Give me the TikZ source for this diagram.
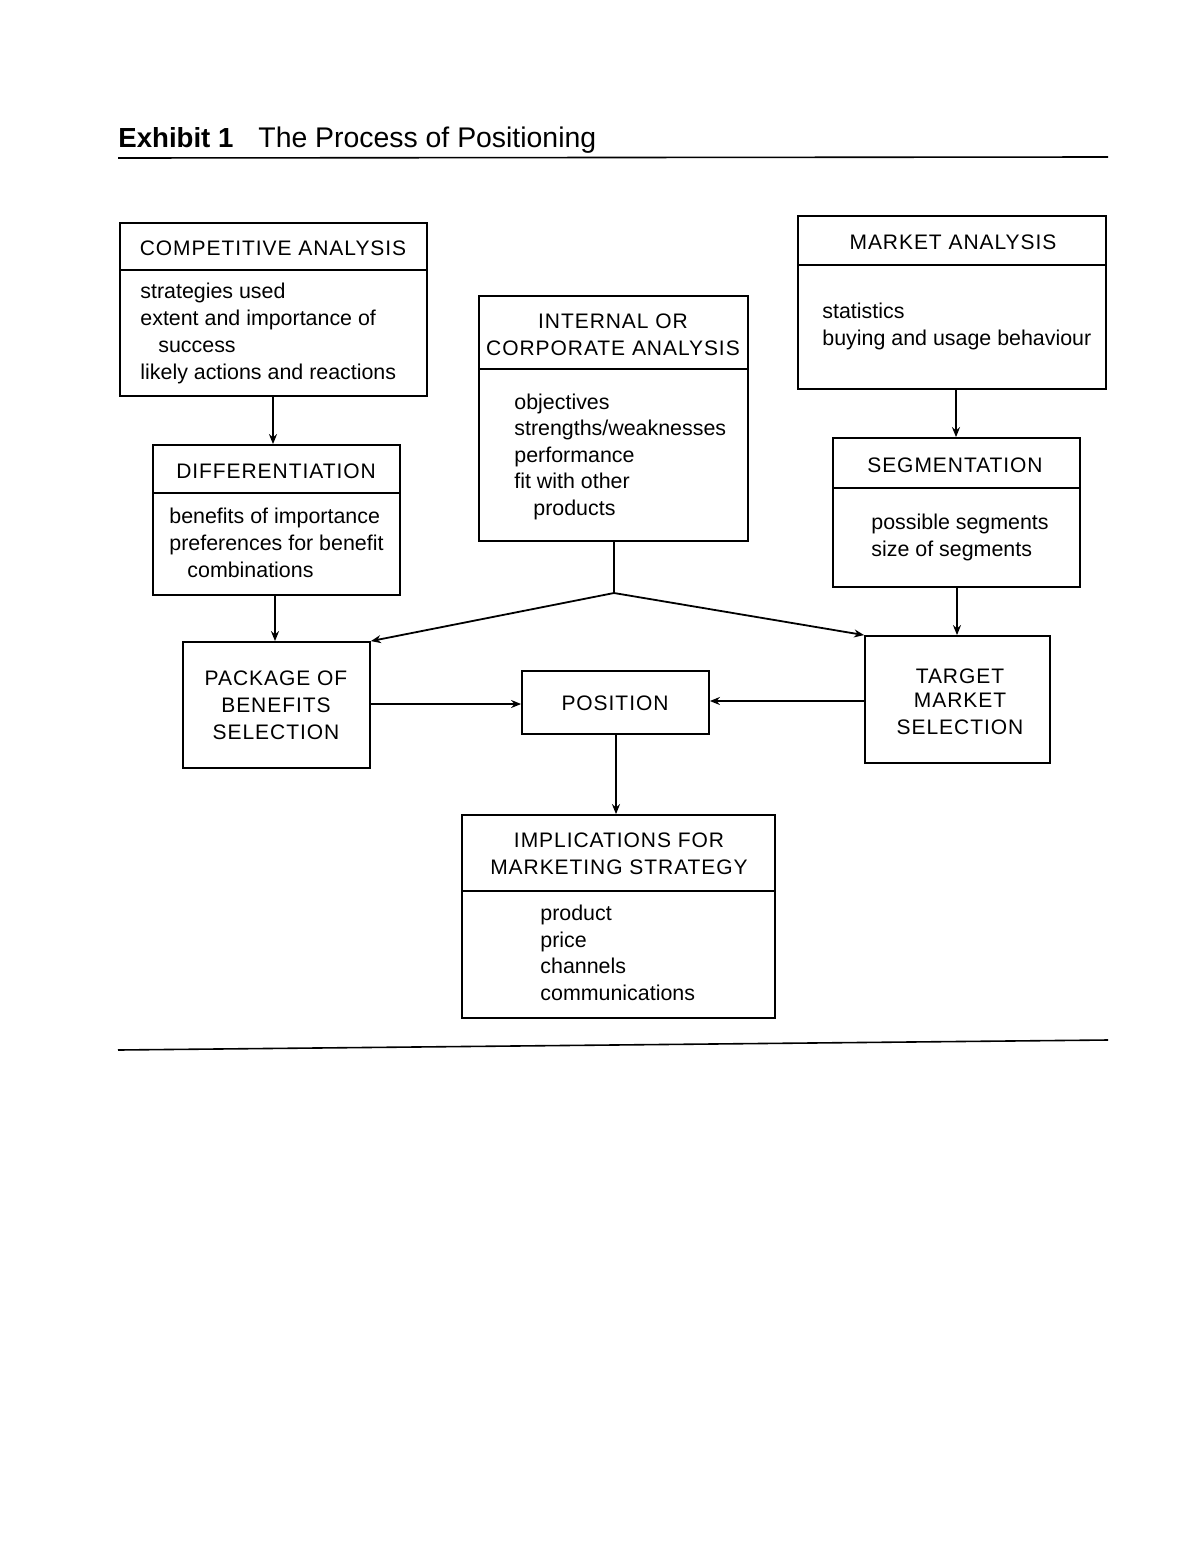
\documentclass[tikz,border=0pt]{standalone}
\usepackage{fontspec}
\setmainfont{Liberation Sans}
\newfontfamily\capsfont[LetterSpace=4.5]{Liberation Sans}
\usetikzlibrary{fit,arrows.meta}
\begin{document}
\begin{tikzpicture}[x=0.5pt,y=-0.5pt,
  box/.style={draw, line width=0.9pt, inner sep=0pt},
  hd/.style={font=\capsfont\fontsize{10.5}{12}\selectfont, inner sep=0pt, anchor=base},
  bd/.style={font=\fontsize{10.7}{13}\selectfont, inner sep=0pt, anchor=base west},
  arr/.style={line width=0.9pt, -{Stealth[length=5pt,width=4pt]}},
  ln/.style={line width=0.9pt},
  rule/.style={line width=0.8pt}]
\useasboundingbox[fill=white] (0,0) rectangle (1200,1553);

% title
\node[anchor=base west, inner sep=0pt, font=\bfseries\fontsize{13.8}{16}\selectfont] (ex) at (118,147) {Exhibit 1};
\node[anchor=base west, inner sep=0pt, font=\fontsize{14.2}{16}\selectfont] (tt) at (258,147) {The Process of Positioning};
\coordinate (r1a) at (118,158);
\coordinate (r1b) at (1108,157);
\draw[rule] (r1a) -- (r1b);

% competitive analysis
\node[box, fit={(120,223) (427,396)}] (comp) {};
\draw[ln] (comp.west |- 0,270) -- (comp.east |- 0,270);
\node[hd] (compH) at (273,255) {COMPETITIVE ANALYSIS};
\node[bd] (comp1) at (140,298) {strategies used};
\node[bd] (comp2) at (140,325) {extent and importance of};
\node[bd] (comp3) at (158,352) {success};
\node[bd] (comp4) at (140,379) {likely actions and reactions};

% internal analysis
\node[box, fit={(479,296) (748,541)}] (intl) {};
\draw[ln] (intl.west |- 0,369) -- (intl.east |- 0,369);
\node[hd] (intlH1) at (613,328) {INTERNAL OR};
\node[hd] (intlH2) at (613,355) {CORPORATE ANALYSIS};
\node[bd] (intl1) at (514,409) {objectives};
\node[bd] (intl2) at (514,435) {strengths/weaknesses};
\node[bd] (intl3) at (514,462) {performance};
\node[bd] (intl4) at (514,488) {fit with other};
\node[bd] (intl5) at (533,515) {products};

% market analysis
\node[box, fit={(798,216) (1106,389)}] (mkt) {};
\draw[ln] (mkt.west |- 0,265) -- (mkt.east |- 0,265);
\node[hd] (mktH) at (953,249) {MARKET ANALYSIS};
\node[bd] (mkt1) at (822,318) {statistics};
\node[bd] (mkt2) at (822,345) {buying and usage behaviour};

% differentiation
\node[box, fit={(153,445) (400,595)}] (diff) {};
\draw[ln] (diff.west |- 0,493) -- (diff.east |- 0,493);
\node[hd] (diffH) at (276,478) {DIFFERENTIATION};
\node[bd] (diff1) at (169,523) {benefits of importance};
\node[bd] (diff2) at (169,550) {preferences for benefit};
\node[bd] (diff3) at (187,577) {combinations};

% segmentation
\node[box, fit={(833,438) (1080,587)}] (seg) {};
\draw[ln] (seg.west |- 0,488) -- (seg.east |- 0,488);
\node[hd] (segH) at (955,472) {SEGMENTATION};
\node[bd] (seg1) at (871,529) {possible segments};
\node[bd] (seg2) at (871,556) {size of segments};

% package of benefits
\node[box, fit={(183,642) (370,768)}] (pkg) {};
\node[hd] (pkg1) at (276,685) {PACKAGE OF};
\node[hd] (pkg2) at (276,712) {BENEFITS};
\node[hd] (pkg3) at (276,739) {SELECTION};

% position
\node[box, fit={(522,671) (709,734)}] (pos) {};
\node[hd] (posT) at (615,710) {POSITION};

% target market
\node[box, fit={(865,636) (1050,763)}] (tgt) {};
\node[hd] (tgt1) at (960,683) {TARGET};
\node[hd] (tgt2) at (960,707) {MARKET};
\node[hd] (tgt3) at (960,734) {SELECTION};

% implications
\node[box, fit={(462,815) (775,1018)}] (impl) {};
\draw[ln] (impl.west |- 0,891) -- (impl.east |- 0,891);
\node[hd] (implH1) at (619,847) {IMPLICATIONS FOR};
\node[hd] (implH2) at (619,874) {MARKETING STRATEGY};
\node[bd] (impl1) at (540,920) {product};
\node[bd] (impl2) at (540,947) {price};
\node[bd] (impl3) at (540,973) {channels};
\node[bd] (impl4) at (540,1000) {communications};

% connectors
\draw[arr] (comp.south -| 273,0) -- (diff.north -| 273,0);
\draw[arr] (diff.south -| 275,0) -- (pkg.north -| 275,0);
\draw[arr] (mkt.south -| 956,0) -- (seg.north -| 956,0);
\draw[arr] (seg.south -| 957,0) -- (tgt.north -| 957,0);
\coordinate (j) at (614,593);
\draw[ln] (intl.south -| j) -- (j);
\draw[arr] (j) -- (pkg.north east);
\draw[arr] (j) -- (tgt.north west);
\draw[arr] (pkg.east |- 0,704) -- (pos.west |- 0,704);
\draw[arr] (tgt.west |- 0,701) -- (pos.east |- 0,701);
\draw[arr] (pos.south -| 616,0) -- (impl.north -| 616,0);

% bottom rule
\coordinate (r2a) at (118,1050);
\coordinate (r2b) at (1108,1040);
\draw[rule] (r2a) -- (r2b);
\end{tikzpicture}
\end{document}
